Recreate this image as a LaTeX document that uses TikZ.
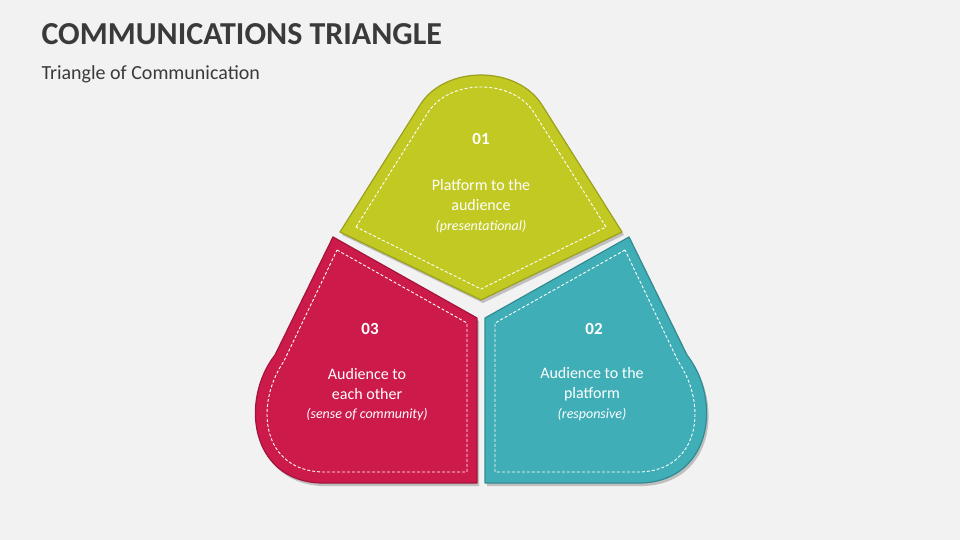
\documentclass[tikz,border=0pt]{standalone}
\usepackage{fontspec}
\setmainfont{Carlito}
\definecolor{bg}{HTML}{F2F2F2}
\definecolor{ttl}{HTML}{3A3A3A}
\definecolor{cY}{HTML}{C2C923}
\definecolor{cR}{HTML}{CC1A4A}
\definecolor{cT}{HTML}{3FAEB7}
\begin{document}
\begin{tikzpicture}[x=1pt,y=-1pt,
  piece/.style={line width=1.2pt, line join=round},
  shad/.style={fill=black!25, draw=none},
  inner/.style={draw=white, dashed, line width=0.9pt, dash pattern=on 3pt off 2pt},
  num/.style={text=white, font=\fontsize{17}{20}\selectfont\bfseries},
  lbl/.style={text=white, align=center, font=\fontsize{16}{20}\selectfont},
  sub/.style={text=white, align=center, font=\fontsize{14}{17}\selectfont\itshape}]
\fill[bg] (0,0) rectangle (960,540);
\useasboundingbox (0,0) rectangle (960,540);
\node[anchor=west, text=ttl, font=\fontsize{32}{36}\selectfont\bfseries] (title) at (38,34) {COMMUNICATIONS TRIANGLE};
\node[anchor=west, text=ttl, font=\fontsize{20}{24}\selectfont] (subtitle) at (38,74) {Triangle of Communication};
% shadows
\fill[shad] (342,235) -- (422,108) .. controls (447,68) and (519,68) .. (544,108) -- (624,235) -- (483,303) -- cycle;
\fill[shad] (335,240) -- (479,321) -- (479,486) -- (322,486) .. controls (252,483) and (242,403) .. (277,358) -- cycle;
\fill[shad] (631,240) -- (487,321) -- (487,486) -- (644,486) .. controls (714,483) and (724,403) .. (689,358) -- cycle;
% pieces
\draw[piece, fill=cY, draw=cY!80!black] (340,232) -- (420,105) .. controls (445,65) and (517,65) .. (542,105) -- (622,232) -- (481,300) -- cycle;
\draw[piece, fill=cR, draw=cR!80!black] (333,237) -- (477,318) -- (477,483) -- (320,483) .. controls (250,480) and (240,400) .. (275,355) -- cycle;
\draw[piece, fill=cT, draw=cT!80!black] (629,237) -- (485,318) -- (485,483) -- (642,483) .. controls (712,480) and (722,400) .. (687,355) -- cycle;
% dashed insets
\draw[inner] (356,227) -- (429,111) .. controls (451,79) and (511,79) .. (533,111) -- (606,227) -- (481,289) -- cycle;
\draw[inner] (337,250) -- (467,323) -- (467,472) -- (322,472) .. controls (262,470) and (254,405) .. (284,361) -- cycle;
\draw[inner] (625,250) -- (495,323) -- (495,472) -- (640,472) .. controls (700,470) and (708,405) .. (678,361) -- cycle;
% texts
\node[num] (n1) at (481,139) {01};
\node[lbl] (t1) at (481,195) {Platform to the\\audience};
\node[sub] (s1) at (481,227) {(presentational)};
\node[num] (n3) at (370,329) {03};
\node[lbl] (t3) at (367,384) {Audience to\\each other};
\node[sub] (s3) at (367,415) {(sense of community)};
\node[num] (n2) at (594,329) {02};
\node[lbl] (t2) at (592,384) {Audience to the\\platform};
\node[sub] (s2) at (592,415) {(responsive)};
\end{tikzpicture}
\end{document}
